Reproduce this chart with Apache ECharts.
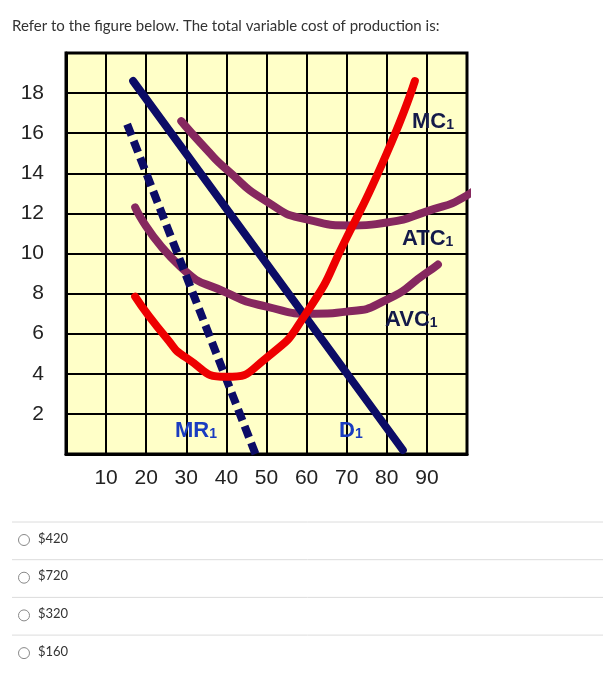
<!DOCTYPE html>
<html>
<head>
<meta charset="utf-8">
<script src="https://cdn.jsdelivr.net/npm/echarts@6/dist/echarts.min.js"></script>
<style>
  html, body { margin: 0; padding: 0; background: #fff; }
  #main { width: 603px; height: 685px; }
</style>
</head>
<body>
<div id="main"></div>
<script>
// curves: [quantity, price]
var demand = [[16.75, 18.6], [84, 0.2]];
var marginalRevenue = [[15.25, 16.45], [47.25, 0]];
var marginalCost = [[17.25, 7.85], [25, 5.8], [30, 4.8], [40, 3.85], [50, 4.8], [60, 7.05], [70, 10.8], [80, 15], [87, 18.6]];
var averageTotalCost = [[28.75, 16.6], [35, 15.2], [40, 14.2], [50, 12.6], [60, 11.7], [71.5, 11.4], [80, 11.55], [90, 12.1], [100, 12.9], [104.75, 13.8]];
var averageVariableCost = [[17.25, 12.3], [28.5, 9.35], [40, 8.05], [50, 7.35], [62, 7.0], [70, 7.1], [80, 7.7], [90, 9.05], [92.75, 9.45]];
var answers = ['$420', '$720', '$320', '$160'];

var chart = echarts.init(document.getElementById('main'));

var graphics = [{
  type: 'text', left: 12, top: 19,
  style: { text: 'Refer to the figure below. The total variable cost of production is:', fill: '#333', fontSize: 15, fontFamily: 'Lato' }
}];
answers.forEach(function (a, i) {
  var y = 540 + i * 37.7;
  graphics.push({ type: 'line', shape: { x1: 12, y1: y - 18, x2: 603, y2: y - 18 }, style: { stroke: '#dcdcdc', lineWidth: 1 } });
  graphics.push({ type: 'circle', shape: { cx: 24, cy: y, r: 5.5 }, style: { fill: '#fff', stroke: '#888', lineWidth: 1 } });
  graphics.push({ type: 'text', left: 38, top: y - 8, style: { text: a, fill: '#333', fontSize: 13, fontFamily: 'Lato' } });
});

function label(x, y, main, color) {
  return {
    type: 'text', left: x, top: y, z: 10,
    style: {
      text: '{a|' + main + '}{b|1}',
      rich: {
        a: { fontSize: 22, fontWeight: 'bold', fontFamily: 'Liberation Sans', fill: color },
        b: { fontSize: 14, fontWeight: 'bold', fontFamily: 'Liberation Sans', fill: color, padding: [7, 0, 0, 0] }
      }
    }
  };
}
graphics.push(label(412, 111, 'MC', '#141a4a'));
graphics.push(label(402, 228, 'ATC', '#141a4a'));
graphics.push(label(385, 309, 'AVC', '#141a4a'));
graphics.push(label(175, 420, 'MR', '#1a3cc0'));
graphics.push(label(339, 420, 'D', '#1a3cc0'));
graphics.push({ type: 'rect', shape: { x: 66, y: 53, width: 401, height: 401 }, style: { fill: 'none', stroke: '#000', lineWidth: 3 }, z: 0 });

function curve(data, color, dashed) {
  return {
    type: 'line', data: data, smooth: data.length > 2 ? 0.6 : false, symbol: 'none', clip: false,
    lineStyle: { color: color, width: 8, type: dashed ? 'dashed' : 'solid', dashOffset: 0, cap: dashed ? 'butt' : 'round' }
  };
}

var mr = curve(marginalRevenue, '#0c0c66', true);
mr.lineStyle.type = [12, 6];

chart.setOption({
  animation: false,
  grid: { left: 66, top: 53, width: 401, height: 401, show: true, backgroundColor: '#ffffc8', borderWidth: 0 },
  xAxis: {
    type: 'value', min: 0, max: 100, interval: 10,
    axisLine: { show: true, onZero: false, lineStyle: { color: '#000', width: 3 } },
    axisTick: { show: false },
    splitLine: { show: true, lineStyle: { color: '#000', width: 2 } },
    axisLabel: { margin: 14, fontSize: 21, fontFamily: 'Liberation Sans', color: '#222',
      formatter: function (v) { return v > 0 && v < 100 ? v : ''; } }
  },
  yAxis: {
    type: 'value', min: 0, max: 20, interval: 2,
    axisLine: { show: true, onZero: false, lineStyle: { color: '#000', width: 3 } },
    axisTick: { show: false },
    splitLine: { show: true, lineStyle: { color: '#000', width: 2 } },
    axisLabel: { margin: 22, fontSize: 21, fontFamily: 'Liberation Sans', color: '#222',
      formatter: function (v) { return v > 0 && v < 20 ? v : ''; } }
  },
  series: [
    curve(averageTotalCost, '#86285f'),
    curve(averageVariableCost, '#86285f'),
    mr,
    curve(demand, '#0c0c66'),
    curve(marginalCost, '#ee0000')
  ],
  graphic: graphics
});
</script>
</body>
</html>
